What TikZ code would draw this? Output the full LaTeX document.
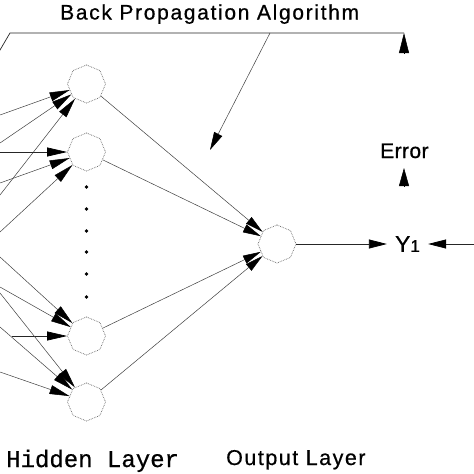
\documentclass[tikz,border=0pt]{standalone}
\usepackage{fontspec}
\setmainfont{Liberation Sans}
\newfontfamily\titlefont[LetterSpace=8,FakeBold=0.6]{Liberation Sans}
\newfontfamily\labfont[LetterSpace=7,FakeBold=0.6]{Liberation Sans}
\newfontfamily\errfont[LetterSpace=2,FakeBold=0.6]{Liberation Sans}
\newfontfamily\yfont[FakeBold=0.6]{Liberation Sans}
\newfontfamily\hidfont[FakeBold=0.6]{Liberation Mono}
\usetikzlibrary{arrows.meta,shapes.geometric}
\begin{document}
\begin{tikzpicture}[x=1pt,y=-1pt,
  neuron/.style={regular polygon, regular polygon sides=8, shape border rotate=22.5,
    draw=black!60, densely dotted, line width=0.7pt, inner sep=0pt, minimum size=38pt},
  wire/.style={draw=black!75, line width=0.5pt},
  solidwire/.style={draw=black!85, line width=0.7pt},
  inarrow/.style={wire, -{Triangle[length=20pt,width=9pt,color=black]}},
  outarrow/.style={wire, -{Triangle[length=18pt,width=8.5pt,color=black]}},
  bigarrow/.style={solidwire, -{Triangle[length=18pt,width=9pt,color=black]}},
  headonly/.style={draw=black, line width=0.5pt, -{Triangle[length=#1,width=10pt,color=black]}},
  dotmark/.style={circle, fill=black, inner sep=0pt, minimum size=3.6pt},
  txt/.style={inner sep=0pt, anchor=base west}
]
\useasboundingbox (0,0) rectangle (474,474);
\clip (0,0) rectangle (474,474);
\fill[white] (0,0) rectangle (474,474);

% hidden neurons
\node[neuron] (h1) at (86.5,84) {};
\node[neuron] (h2) at (86.5,152) {};
\node[neuron] (h3) at (86.5,336) {};
\node[neuron] (h4) at (86.5,402) {};
% output neuron
\node[neuron] (out) at (277,244) {};

% dots
\foreach \yy [count=\k] in {187,209,231,252,274,297}
  \node[dotmark] (d\k) at (86.5,\yy) {};

% input end points (off the left edge)
\coordinate (i1a) at (0,115);
\coordinate (i1b) at (0,143);
\coordinate (i1c) at (0,195);
\coordinate (i2a) at (-5,152);
\coordinate (i2b) at (0,183);
\coordinate (i2c) at (0,232);
\coordinate (i3a) at (0,257);
\coordinate (i3b) at (0,287);
\coordinate (i3c) at (12,336);
\coordinate (i4a) at (0,293);
\coordinate (i4b) at (0,327);
\coordinate (i4c) at (0,372);

\draw[inarrow] (i1a) -- (h1);
\draw[inarrow] (i1b) -- (h1);
\draw[inarrow] (i1c) -- (h1);
\draw[inarrow, draw=black!85, line width=0.7pt] (i2a) -- (h2);
\draw[inarrow] (i2b) -- (h2);
\draw[inarrow] (i2c) -- (h2);
\draw[inarrow] (i3a) -- (h3);
\draw[inarrow] (i3b) -- (h3);
\draw[inarrow, draw=black!85, line width=0.7pt] (i3c) -- (h3);
\draw[inarrow] (i4a) -- (h4);
\draw[inarrow] (i4b) -- (h4);
\draw[inarrow] (i4c) -- (h4);

% hidden to output
\draw[outarrow] (h1) -- (out);
\draw[outarrow] (h2) -- (out);
\draw[outarrow] (h3) -- (out);
\draw[outarrow] (h4) -- (out);

% output value
\node[inner xsep=8pt, inner ysep=0pt] (y1) at (407.5,244)
  {\fontsize{23}{23}\yfont Y\fontsize{17}{17}\selectfont 1};
\coordinate (rin) at (480,244);
\draw[bigarrow] (out) -- (y1);
\draw[bigarrow] (rin) -- (y1);

% error
\node[txt] (err) at (380,158) {\fontsize{21}{21}\errfont Error};
\coordinate (eb) at (404,186);
\coordinate (et) at (404,168);
\draw[headonly=18pt] (eb) -- (et);

% back propagation path
\coordinate (bpOff) at (-10,67);
\coordinate (bpL) at (10,33);
\coordinate (bpM) at (270,33);
\coordinate (bpR) at (404,33);
\coordinate (bpRb) at (404,53);
\coordinate (bpTip) at (210,150);
\draw[solidwire] (bpOff) -- (bpL) -- (bpR);
\draw[headonly=20pt] (bpRb) -- (bpR);
\draw[wire, -{Triangle[length=18pt,width=9pt,color=black]}] (bpM) -- (bpTip);

% labels
\node[txt] (title) at (60,19.5) {\fontsize{21}{21}\titlefont Back Propagation Algorithm};
\node[txt] (hid) at (6,467) {\fontsize{24}{24}\hidfont Hidden Layer};
\node[txt] (outl) at (226,465) {\fontsize{21.5}{21.5}\labfont Output Layer};
\end{tikzpicture}
\end{document}
